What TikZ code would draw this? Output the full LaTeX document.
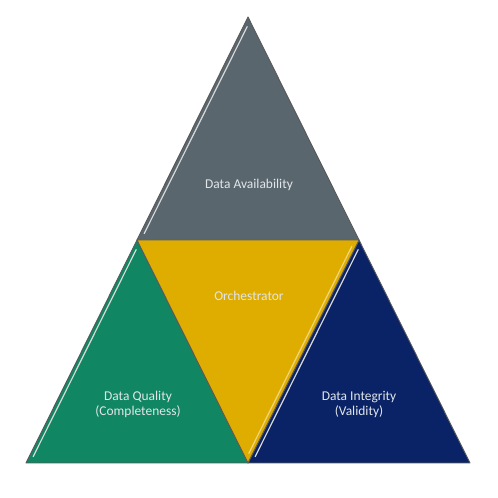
\documentclass[tikz,border=0pt]{standalone}
\usepackage{fontspec}
\setmainfont{Carlito}
\usepackage{tikz}
\usetikzlibrary{calc}
\definecolor{AvailGray}{RGB}{90,102,110}
\definecolor{OrchYellow}{RGB}{223,173,0}
\definecolor{QualGreen}{RGB}{16,134,98}
\definecolor{IntegNavy}{RGB}{10,35,102}
\definecolor{LabelWhite}{RGB}{225,230,233}
\tikzset{
	part/.style={draw=black!65,line width=0.9pt,line join=round},
	shine/.style={draw=white!85!black,line width=1.2pt,line cap=round,shorten <=9pt,shorten >=9pt},
	lbl/.style={text=LabelWhite,font=\fontsize{13.5}{15}\selectfont,align=center},
}

\begin{document}
\begin{tikzpicture}[x=1bp,y=1bp]
			\useasboundingbox (0,0) rectangle (498,498);
			\coordinate (top) at (248,481);
			\coordinate (bl) at (26,35);
			\coordinate (br) at (470,35);
			\coordinate (ml) at (137,258);
			\coordinate (mr) at (359,258);
			\coordinate (mb) at (248,35);
			% four faces
			\draw[part,fill=AvailGray] (top)--(ml)--(mr)--cycle;
			\draw[part,fill=QualGreen] (ml)--(bl)--(mb)--cycle;
			\draw[part,fill=IntegNavy] (mr)--(mb)--(br)--cycle;
			\draw[part,fill=OrchYellow] (ml)--(mr)--(mb)--cycle;
			% bevel highlights on the left edges
			\draw[shine] ([shift={(3.2,-1.6)}]top)--([shift={(3.2,-1.6)}]ml);
			\draw[shine] ([shift={(3.2,-1.6)}]ml)--([shift={(3.2,-1.6)}]bl);
			\draw[shine] ([shift={(3.2,-1.6)}]mr)--([shift={(3.2,-1.6)}]mb);
			\draw[shine,draw=OrchYellow!50!white] ([shift={(-3.2,1.6)}]mr)--([shift={(-3.2,1.6)}]mb);
			\node[lbl] (avail) at (249,313) {Data Availability};
			\node[lbl] (orch) at (249,202) {Orchestrator};
			\node[lbl] (qual) at (138,94) {Data Quality\\(Completeness)};
			\node[lbl] (integ) at (359,94) {Data Integrity\\(Validity)};
		\end{tikzpicture}
\end{document}
